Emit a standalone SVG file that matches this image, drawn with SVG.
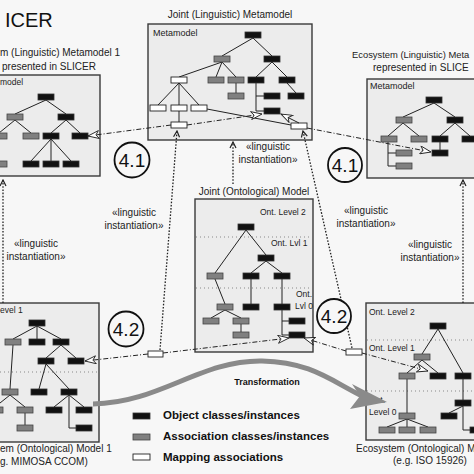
<svg xmlns="http://www.w3.org/2000/svg" width="474" height="474" viewBox="0 0 474 474">
<defs>
<style>
.bg{fill:#f7f7f7}
.box{fill:#ececec;stroke:#3a3a3a;stroke-width:1.4}
.k{fill:#111;stroke:#333;stroke-width:0.8}
.g{fill:#808080;stroke:#444;stroke-width:0.8}
.w{fill:#fff;stroke:#222;stroke-width:0.9}
.e{stroke:#222;stroke-width:1;fill:none}
.lvl{stroke:#888;stroke-width:1;stroke-dasharray:1 3;fill:none}
.dd{stroke:#222;stroke-width:1;stroke-dasharray:5 2 1 2;fill:none}
.dot{stroke:#222;stroke-width:1.3;stroke-dasharray:1.6 1.6;fill:none}
.circ{fill:#f7f7f7;stroke:#111;stroke-width:1.8}
.t{font-family:"Liberation Sans",Arial,sans-serif;font-size:10px;fill:#222}
.s{font-family:"Liberation Sans",Arial,sans-serif;font-size:8.5px;fill:#222}
.n{font-family:"Liberation Sans",Arial,sans-serif;font-size:19px;fill:#111}
.b{font-family:"Liberation Sans",Arial,sans-serif;font-weight:bold;fill:#111}
</style>
<marker id="ah" markerUnits="userSpaceOnUse" markerWidth="13" markerHeight="9" refX="12" refY="4.5" orient="auto">
<path d="M1,0.5 L12,4.5 L1,8.5 L4,4.5 Z" fill="#fff" stroke="#222" stroke-width="0.9"/>
</marker>
<marker id="ch" markerUnits="userSpaceOnUse" markerWidth="8" markerHeight="8" refX="7" refY="4" orient="auto">
<path d="M1,1 L7,4 L1,7" fill="none" stroke="#222" stroke-width="1.2"/>
</marker>
</defs>
<rect class="bg" x="0" y="0" width="474" height="474"/>

<text class="b" x="5" y="27" style="font-weight:normal;font-size:20px">ICER</text>

<!-- Top-left linguistic metamodel -->
<g id="ling-mm-1">
<text class="t" x="0" y="56">m (Linguistic) Metamodel 1</text>
<text class="t" x="2" y="70">presented in SLICER</text>
<rect class="box" x="-10" y="75" width="110" height="101"/>
<text class="s" x="0" y="85">model</text>
<g class="e">
<path d="M46,100 L15,114 M46,100 L66,114 M15,120 L-1,133 M15,120 L31,133 M66,120 L51,133 M66,120 L80,133 M51,139 L31,161 M51,139 L51,161 M51,139 L71,161"/>
</g>
<rect class="k" x="38" y="94" width="16" height="6"/>
<rect class="g" x="7" y="114" width="16" height="6"/>
<rect class="k" x="58" y="114" width="16" height="6"/>
<rect class="g" x="-9" y="133" width="16" height="6"/>
<rect class="g" x="23" y="133" width="16" height="6"/>
<rect class="k" x="43" y="133" width="16" height="6"/>
<rect class="k" x="72" y="133" width="16" height="6"/>
<rect class="g" x="-9" y="161" width="16" height="6"/>
<rect class="k" x="23" y="161" width="16" height="6"/>
<rect class="k" x="43" y="161" width="16" height="6"/>
<rect class="k" x="63" y="161" width="16" height="6"/>
</g>

<!-- Top-center joint linguistic metamodel -->
<g id="joint-ling-mm">
<text class="t" x="230" y="18" text-anchor="middle">Joint (Linguistic) Metamodel</text>
<rect class="box" x="148" y="24" width="164" height="116"/>
<text class="s" x="153" y="36" style="font-size:9px">Metamodel</text>
<path class="e" d="M253,38 L222,56 M253,38 L272,56 M222,62 L179,77 M222,62 L216,77 M222,62 L236,77 M272,62 L256,77 M272,62 L287,77 M236,83 L236,93 M256,83 L256,111 L264,111 M256,96 L264,96 M287,83 L296,93 M179,83 L158,105 M179,83 L179,105 M179,83 L199,105 M179,111 L179,122 M207,109 L291,125"/>
<rect class="k" x="245" y="32" width="16" height="6"/>
<rect class="g" x="214" y="56" width="16" height="6"/>
<rect class="k" x="264" y="56" width="16" height="6"/>
<rect class="w" x="171" y="77" width="16" height="6"/>
<rect class="g" x="208" y="77" width="16" height="6"/>
<rect class="g" x="228" y="77" width="16" height="6"/>
<rect class="k" x="248" y="77" width="16" height="6"/>
<rect class="k" x="279" y="77" width="16" height="6"/>
<rect class="g" x="228" y="93" width="16" height="6"/>
<rect class="k" x="264" y="93" width="16" height="6"/>
<rect class="k" x="288" y="93" width="16" height="6"/>
<rect class="w" x="150" y="105" width="16" height="6"/>
<rect class="w" x="171" y="105" width="16" height="6"/>
<rect class="w" x="191" y="105" width="16" height="6"/>
<rect class="k" x="264" y="108" width="16" height="6"/>
<rect class="w" x="171" y="122" width="16" height="6"/>
<rect class="w" x="291" y="123" width="16" height="6"/>
</g>

<!-- Top-right ecosystem linguistic metamodel -->
<g id="ling-mm-2">
<text class="t" x="352" y="58" style="font-size:9.4px">Ecosystem (Linguistic) Meta</text>
<text class="t" x="373" y="71">represented in SLICE</text>
<rect class="box" x="367" y="79" width="120" height="99"/>
<text class="s" x="370" y="89" style="font-size:9px">Metamodel</text>
<path class="e" d="M434,103 L403,117 M434,103 L455,117 M403,123 L388,136 M403,123 L419,136 M455,123 L440,136 M455,123 L470,136 M388,142 L388,166 L396,166 M388,153 L396,153 M440,142 L440,150"/>
<rect class="k" x="426" y="97" width="16" height="6"/>
<rect class="g" x="396" y="117" width="16" height="6"/>
<rect class="k" x="447" y="117" width="16" height="6"/>
<rect class="g" x="381" y="136" width="16" height="6"/>
<rect class="g" x="411" y="136" width="16" height="6"/>
<rect class="k" x="432" y="136" width="16" height="6"/>
<rect class="k" x="462" y="136" width="16" height="6"/>
<rect class="g" x="396" y="150" width="16" height="6"/>
<rect class="k" x="432" y="150" width="16" height="6"/>
<rect class="g" x="396" y="163" width="16" height="6"/>
</g>

<!-- Middle joint ontological model -->
<g id="joint-onto-model">
<text class="t" x="254" y="195" text-anchor="middle">Joint (Ontological) Model</text>
<rect class="box" x="195" y="199" width="118" height="153"/>
<path class="lvl" d="M196,237 L312,237 M196,288 L312,288"/>
<text class="s" x="260" y="215">Ont. Level 2</text>
<text class="s" x="271" y="246">Ont. Lvl 1</text>
<text class="s" x="296" y="297">Ont.</text>
<text class="s" x="295" y="309">Lvl 0</text>
<path class="e" d="M246,230 L215,273 M246,230 L266,255 M266,261 L251,273 M266,261 L282,273 M215,279 L225,304 M251,279 L251,304 M282,279 L282,304 M225,310 L211,318 M225,310 L241,318 M241,324 L241,332 M282,310 L282,335 L289,335 M282,321 L289,321"/>
<rect class="k" x="238" y="224" width="16" height="6"/>
<rect class="k" x="258" y="255" width="16" height="6"/>
<rect class="g" x="207" y="273" width="16" height="6"/>
<rect class="k" x="243" y="273" width="16" height="6"/>
<rect class="k" x="274" y="273" width="16" height="6"/>
<rect class="g" x="217" y="304" width="16" height="6"/>
<rect class="k" x="243" y="304" width="16" height="6"/>
<rect class="k" x="274" y="304" width="16" height="6"/>
<rect class="g" x="203" y="318" width="16" height="6"/>
<rect class="g" x="233" y="318" width="16" height="6"/>
<rect class="k" x="289" y="318" width="16" height="6"/>
<rect class="g" x="233" y="332" width="16" height="6"/>
<rect class="k" x="289" y="332" width="16" height="6"/>
</g>

<!-- Bottom-left ecosystem ontological model 1 -->
<g id="onto-model-1">
<rect class="box" x="-10" y="303" width="109" height="139"/>
<text class="s" x="0" y="313">evel 1</text>
<path class="lvl" d="M0,372 L98,372"/>
<path class="e" d="M37,326 L13,339 M37,326 L37,339 M37,326 L61,339 M13,345 L10,389 M61,345 L46,358 M61,345 L76,358 M46,364 L39,389 M46,364 L69,389 M10,395 L-5,407 M10,395 L25,407 M69,395 L54,407 M69,395 L84,407 M69,395 L69,428 L76,428 M25,413 L25,425"/>
<rect class="k" x="29" y="320" width="16" height="6"/>
<rect class="g" x="5" y="339" width="16" height="6"/>
<rect class="k" x="29" y="339" width="16" height="6"/>
<rect class="k" x="53" y="339" width="16" height="6"/>
<rect class="k" x="38" y="358" width="16" height="6"/>
<rect class="k" x="68" y="358" width="16" height="6"/>
<rect class="g" x="2" y="389" width="16" height="6"/>
<rect class="k" x="31" y="389" width="16" height="6"/>
<rect class="k" x="61" y="389" width="16" height="6"/>
<rect class="g" x="-13" y="407" width="16" height="6"/>
<rect class="g" x="17" y="407" width="16" height="6"/>
<rect class="k" x="46" y="407" width="16" height="6"/>
<rect class="k" x="76" y="407" width="16" height="6"/>
<rect class="g" x="17" y="425" width="16" height="6"/>
<rect class="k" x="76" y="425" width="16" height="6"/>
<text class="t" x="0" y="452">em (Ontological) Model 1</text>
<text class="t" x="0" y="465">g. MIMOSA CCOM)</text>
</g>

<!-- Bottom-right ecosystem ontological model -->
<g id="onto-model-2">
<rect class="box" x="366" y="303" width="120" height="137"/>
<path class="lvl" d="M367,340 L474,340 M367,391 L474,391"/>
<text class="s" x="369" y="315">Ont. Level 2</text>
<text class="s" x="369" y="351">Ont. Level 1</text>
<text class="s" x="369" y="403">Ont.</text>
<text class="s" x="369" y="415">Level 0</text>
<path class="e" d="M438,329 L422,354 M438,329 L463,373 M422,360 L407,373 M422,360 L438,373 M407,379 L407,413 M407,419 L387,427 M407,419 L407,427 M407,419 L428,427 M463,379 L463,400 M463,406 L449,413 M463,406 L463,430 L470,430"/>
<rect class="k" x="430" y="323" width="16" height="6"/>
<rect class="g" x="414" y="354" width="16" height="6"/>
<rect class="g" x="399" y="373" width="16" height="6"/>
<rect class="k" x="430" y="373" width="16" height="6"/>
<rect class="k" x="455" y="373" width="16" height="6"/>
<rect class="k" x="455" y="400" width="16" height="6"/>
<rect class="g" x="399" y="413" width="16" height="6"/>
<rect class="k" x="441" y="413" width="16" height="6"/>
<rect class="g" x="379" y="427" width="16" height="6"/>
<rect class="g" x="399" y="427" width="16" height="6"/>
<rect class="g" x="420" y="427" width="16" height="6"/>
<rect class="k" x="470" y="427" width="16" height="6"/>
<text class="t" x="356" y="452">Ecosystem (Ontological) M</text>
<text class="t" x="393" y="464">(e.g. ISO 15926)</text>
</g>

<!-- Connectors -->
<g id="connectors">
<path class="dd" d="M171,125 L88,136" marker-end="url(#ah)"/>
<path class="dd" d="M187,125 L262,114" marker-end="url(#ah)"/>
<path class="e" d="M299,123 L281,114" marker-end="url(#ah)"/>
<path class="dd" d="M307,128 L431,152" marker-end="url(#ah)"/>
<path class="dd" d="M148,354 L85,361" marker-end="url(#ah)"/>
<path class="dd" d="M163,353 L289,338" marker-end="url(#ah)"/>
<path class="dd" d="M346,351 L304,338" marker-end="url(#ah)"/>
<path class="dd" d="M362,353 L428,371" marker-end="url(#ah)"/>
<path class="dot" d="M3,303 L3,180" marker-end="url(#ch)"/>
<path class="dot" d="M160,350 L177,131" marker-end="url(#ch)"/>
<path class="dot" d="M233,184 L233,142" marker-end="url(#ch)"/>
<path class="dot" d="M352,348 L303,131" marker-end="url(#ch)"/>
<path class="dot" d="M463,303 L463,180" marker-end="url(#ch)"/>
<rect class="w" x="148" y="351" width="15" height="6"/>
<rect class="w" x="346" y="349" width="16" height="6"/>
<path d="M93,404 C160,403 200,360 262,361 C310,362 330,380 362,396" fill="none" stroke="#8a8a8a" stroke-width="5"/>
<path d="M387,402 L352,384 L360,396 L350,409 Z" fill="#8a8a8a"/>
<text class="b" x="267" y="385" text-anchor="middle" style="font-size:9px">Transformation</text>
</g>

<g id="label-ling-1"><text class="t" x="36" y="247" text-anchor="middle">«linguistic</text><text class="t" x="36" y="260" text-anchor="middle">instantiation»</text></g>
<g id="label-ling-2"><text class="t" x="134" y="216" text-anchor="middle">«linguistic</text><text class="t" x="134" y="229" text-anchor="middle">instantiation»</text></g>
<g id="label-ling-3"><text class="t" x="268" y="150" text-anchor="middle">«linguistic</text><text class="t" x="268" y="163" text-anchor="middle">instantiation»</text></g>
<g id="label-ling-4"><text class="t" x="366" y="214" text-anchor="middle">«linguistic</text><text class="t" x="366" y="227" text-anchor="middle">instantiation»</text></g>
<g id="label-ling-5"><text class="t" x="430" y="248" text-anchor="middle">«linguistic</text><text class="t" x="430" y="261" text-anchor="middle">instantiation»</text></g>

<g id="c41a"><circle class="circ" cx="132" cy="160" r="17.5"/><text class="n" x="132" y="167" text-anchor="middle">4.1</text></g>
<g id="c41b"><circle class="circ" cx="345" cy="165" r="17"/><text class="n" x="345" y="172" text-anchor="middle">4.1</text></g>
<g id="c42a"><circle class="circ" cx="126" cy="329" r="17.5"/><text class="n" x="126" y="336" text-anchor="middle">4.2</text></g>
<g id="c42b"><circle class="circ" cx="334" cy="316" r="17"/><text class="n" x="334" y="323" text-anchor="middle">4.2</text></g>

<g id="legend">
<rect class="k" x="133" y="413" width="17" height="6"/>
<rect class="g" x="133" y="434" width="17" height="6"/>
<rect class="w" x="133" y="454" width="17" height="6"/>
<text class="b" x="163" y="419" style="font-size:11.5px">Object classes/instances</text>
<text class="b" x="163" y="440" style="font-size:11.5px">Association classes/instances</text>
<text class="b" x="163" y="461" style="font-size:11.5px">Mapping associations</text>
</g>
</svg>
